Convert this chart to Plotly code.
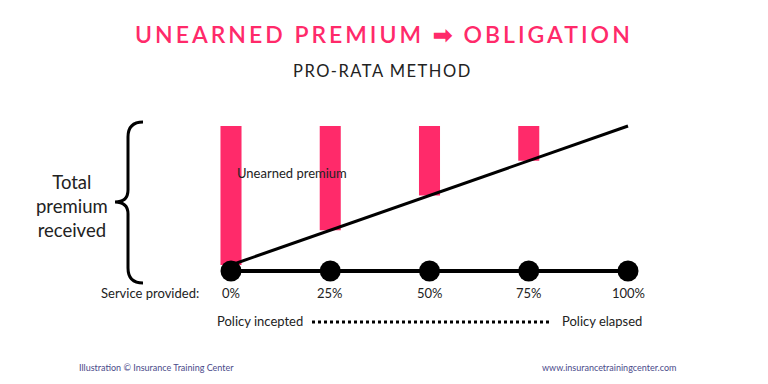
import plotly.graph_objects as go

# ---- data ----
service_pct = [0, 25, 50, 75, 100]
tick_labels = ["0%", "25%", "50%", "75%", "100%"]
bar_service = [0, 25, 50, 75]
earned = [0, 25, 50, 75]          # earned portion (line value) at each point
unearned = [100, 75, 50, 25]      # unearned premium (bar length)
line_x = [0, 100]
line_y = [0, 100]
timeline_level = -4.3

PINK = "#ff2a6a"
FONT = "Lato"
W, H = 768, 384
OFF = 8  # page body margin

# pixel mapping of the (hidden) axes: x 0->231px, 100->628px ; y 0->265px, 100->126px (screen px)
sx = (628 - 231) / 100.0
sy = (265 - 126) / 100.0
x0p = 231 - OFF
y0p = 265 - OFF
x_range = [-x0p / sx, (W - x0p) / sx]
y_range = [-(H - y0p) / sy, y0p / sy]

def px(x):
    return (x - OFF) / W

def py(y):
    return 1 - (y - OFF) / H

fig = go.Figure()

# unearned premium bars
fig.add_trace(go.Bar(
    x=bar_service, y=unearned, base=earned, width=5.3,
    marker=dict(color=PINK, line=dict(width=0)), showlegend=False, hoverinfo="skip"))

# earned line
fig.add_trace(go.Scatter(
    x=line_x, y=line_y, mode="lines", line=dict(color="black", width=3),
    showlegend=False, hoverinfo="skip"))

# timeline with dots
fig.add_trace(go.Scatter(
    x=service_pct, y=[timeline_level] * len(service_pct), mode="lines+markers",
    line=dict(color="black", width=4), marker=dict(color="black", size=21),
    showlegend=False, hoverinfo="skip"))

ann = []
# tick labels
for xv, t in zip(service_pct, tick_labels):
    ann.append(dict(x=xv, xref="x", y=py(293), yref="paper", text=t, showarrow=False,
                    font=dict(family=FONT, size=13, color="#222"), xanchor="center", yanchor="middle"))

ann += [
    dict(x=px(384), y=py(34), text='<span style="letter-spacing:3px">UNEARNED PREMIUM ➡ OBLIGATION</span>',
         font=dict(family=FONT, size=23, color=PINK, weight=600)),
    dict(x=px(382), y=py(71), text='<span style="letter-spacing:1.5px">PRO-RATA METHOD</span>',
         font=dict(family=FONT, size=16.5, color="#222")),
    dict(x=px(72), y=py(206), text="Total<br>premium<br>received",
         font=dict(family=FONT, size=18.5, color="#222"), align="center"),
    dict(x=px(235), y=py(173), text="Unearned premium", xanchor="left",
         font=dict(family=FONT, size=13, color="#222")),
    dict(x=px(201), y=py(293), text="Service provided:", xanchor="right",
         font=dict(family=FONT, size=13, color="#222")),
    dict(x=px(305), y=py(321), text="Policy incepted", xanchor="right",
         font=dict(family=FONT, size=13, color="#222")),
    dict(x=px(560), y=py(321), text="Policy elapsed", xanchor="left",
         font=dict(family=FONT, size=13, color="#222")),
    dict(x=px(77), y=py(367), text="Illustration © Insurance Training Center", xanchor="left",
         font=dict(family=FONT, size=9, color="#4a4a8a")),
    dict(x=px(540), y=py(367), text="www.insurancetrainingcenter.com", xanchor="left",
         font=dict(family=FONT, size=9, color="#4a4a8a")),
]
for a in ann:
    a.setdefault("xref", "paper")
    a.setdefault("yref", "paper")
    a.setdefault("showarrow", False)
    a.setdefault("xanchor", "center")
    a.setdefault("yanchor", "middle")

# curly brace (decoration)
pts = [(143, 122), (128, 122), (128, 137), (128, 190), (128, 202), (115, 202), (128, 202),
       (128, 214), (128, 268), (128, 283), (143, 283)]
P = [(px(a), py(b)) for a, b in pts]
path = ("M {0[0]},{0[1]} Q {1[0]},{1[1]} {2[0]},{2[1]} L {3[0]},{3[1]} Q {4[0]},{4[1]} {5[0]},{5[1]} "
        "Q {6[0]},{6[1]} {7[0]},{7[1]} L {8[0]},{8[1]} Q {9[0]},{9[1]} {10[0]},{10[1]}").format(*P)

shapes = [
    dict(type="path", path=path, xref="paper", yref="paper", line=dict(color="black", width=3)),
    dict(type="line", xref="paper", yref="paper", x0=px(312), x1=px(552), y0=py(322), y1=py(322),
         line=dict(color="black", width=3, dash="dot")),
]

fig.update_layout(
    width=W, height=H, margin=dict(l=0, r=0, t=0, b=0),
    paper_bgcolor="white", plot_bgcolor="white",
    xaxis=dict(range=x_range, visible=False, fixedrange=True),
    yaxis=dict(range=y_range, visible=False, fixedrange=True),
    annotations=ann, shapes=shapes, showlegend=False, barmode="overlay",
)

fig.write_html("out.html")
